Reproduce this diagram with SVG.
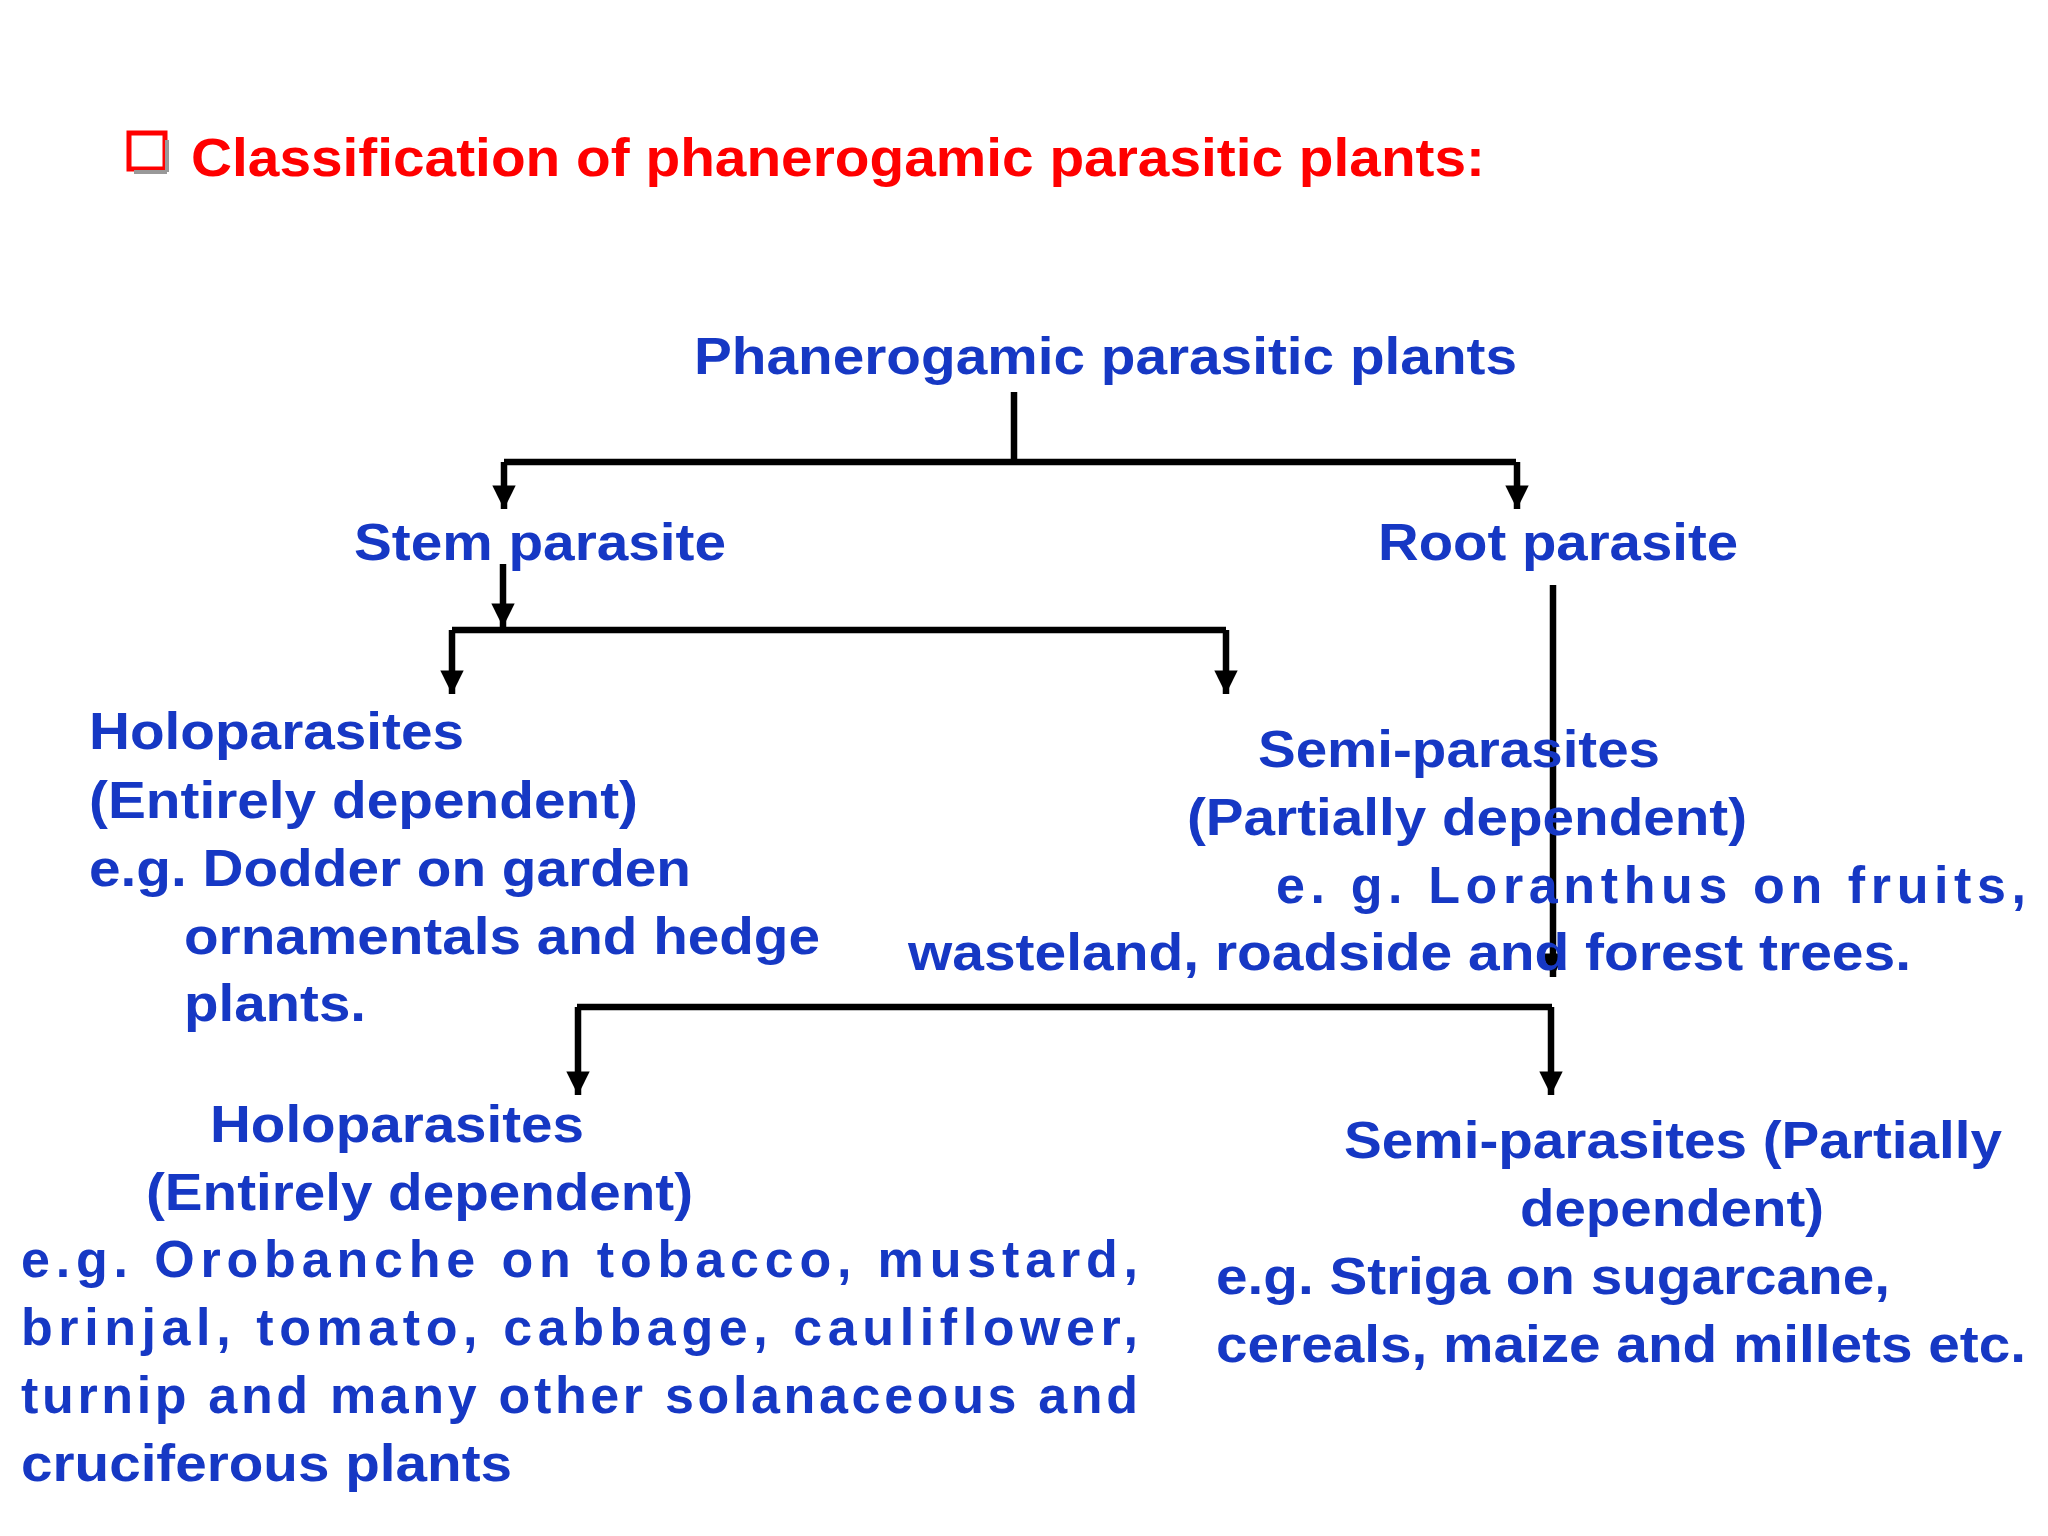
<svg xmlns="http://www.w3.org/2000/svg" width="2048" height="1536" viewBox="0 0 2048 1536">
<style>
.t{font-family:"Liberation Sans",Arial,sans-serif;font-weight:bold;font-size:52px;fill:#1638c4}
.h{font-family:"Liberation Sans",Arial,sans-serif;font-weight:bold;font-size:54px;fill:#ff0000}
.c{stroke:#000;stroke-width:6.5;fill:none}
</style>
<defs><marker id="a" viewBox="0 0 10 10" refX="10" refY="5" markerWidth="4" markerHeight="3.6" orient="auto" markerUnits="strokeWidth"><path d="M0,0L10,5L0,10z" fill="#000"/></marker></defs>
<rect width="2048" height="1536" fill="#fff"/>
<g id="title"><rect x="129" y="133" width="36" height="36" fill="none" stroke="#ff0000" stroke-width="5"/><line x1="167" y1="140" x2="167" y2="172" stroke="#999" stroke-width="4"/><line x1="134" y1="172" x2="167" y2="172" stroke="#999" stroke-width="4"/>
<text class="h" x="191" y="176" textLength="1294" lengthAdjust="spacingAndGlyphs">Classification of phanerogamic parasitic plants:</text></g>
<g id="connectors">
<path class="c" d="M1014,392V462M504,462H1516"/>
<path class="c" d="M504,462V509" marker-end="url(#a)"/>
<path class="c" d="M1517,462V509" marker-end="url(#a)"/>
<path class="c" d="M503,564V627" marker-end="url(#a)"/>
<path class="c" d="M452,630H1226"/>
<path class="c" d="M452,630V694" marker-end="url(#a)"/>
<path class="c" d="M1226,630V694" marker-end="url(#a)"/>
<path class="c" d="M1553,585V977" marker-end="url(#a)"/>
<path class="c" d="M577,1007H1552"/>
<path class="c" d="M578,1007V1095" marker-end="url(#a)"/>
<path class="c" d="M1551,1007V1095" marker-end="url(#a)"/>
</g>
<g id="root"><text class="t" x="694" y="374" textLength="823" lengthAdjust="spacingAndGlyphs">Phanerogamic parasitic plants</text></g>
<g id="stem"><text class="t" x="354" y="560" textLength="372" lengthAdjust="spacingAndGlyphs">Stem parasite</text></g>
<g id="rootp"><text class="t" x="1378" y="560" textLength="360" lengthAdjust="spacingAndGlyphs">Root parasite</text></g>
<g id="stemholo" class="t">
<text x="89" y="749" textLength="375" lengthAdjust="spacingAndGlyphs">Holoparasites</text>
<text x="89" y="818" textLength="549" lengthAdjust="spacingAndGlyphs">(Entirely dependent)</text>
<text x="89" y="886" textLength="602" lengthAdjust="spacingAndGlyphs">e.g. Dodder on garden</text>
<text x="184" y="954" textLength="636" lengthAdjust="spacingAndGlyphs">ornamentals and hedge</text>
<text x="184" y="1021" textLength="182" lengthAdjust="spacingAndGlyphs">plants.</text></g>
<g id="stemsemi" class="t">
<text x="1258" y="767" textLength="402" lengthAdjust="spacingAndGlyphs">Semi-parasites</text>
<text x="1187" y="835" textLength="560" lengthAdjust="spacingAndGlyphs">(Partially dependent)</text>
<text x="1276" y="903" textLength="750" lengthAdjust="spacing">e. g. Loranthus on fruits,</text>
<text x="908" y="970" textLength="1003" lengthAdjust="spacingAndGlyphs">wasteland, roadside and forest trees.</text></g>
<g id="rootholo" class="t">
<text x="210" y="1142" textLength="374" lengthAdjust="spacingAndGlyphs">Holoparasites</text>
<text x="146" y="1210" textLength="547" lengthAdjust="spacingAndGlyphs">(Entirely dependent)</text>
<text x="21" y="1277" textLength="1117" lengthAdjust="spacing">e.g. Orobanche on tobacco, mustard,</text>
<text x="21" y="1345" textLength="1117" lengthAdjust="spacing">brinjal, tomato, cabbage, cauliflower,</text>
<text x="21" y="1413" textLength="1117" lengthAdjust="spacing">turnip and many other solanaceous and</text>
<text x="21" y="1481" textLength="491" lengthAdjust="spacingAndGlyphs">cruciferous plants</text></g>
<g id="rootsemi" class="t">
<text x="1344" y="1158" textLength="658" lengthAdjust="spacingAndGlyphs">Semi-parasites (Partially</text>
<text x="1520" y="1226" textLength="304" lengthAdjust="spacingAndGlyphs">dependent)</text>
<text x="1216" y="1294" textLength="674" lengthAdjust="spacingAndGlyphs">e.g. Striga on sugarcane,</text>
<text x="1216" y="1362" textLength="810" lengthAdjust="spacingAndGlyphs">cereals, maize and millets etc.</text></g>
</svg>
